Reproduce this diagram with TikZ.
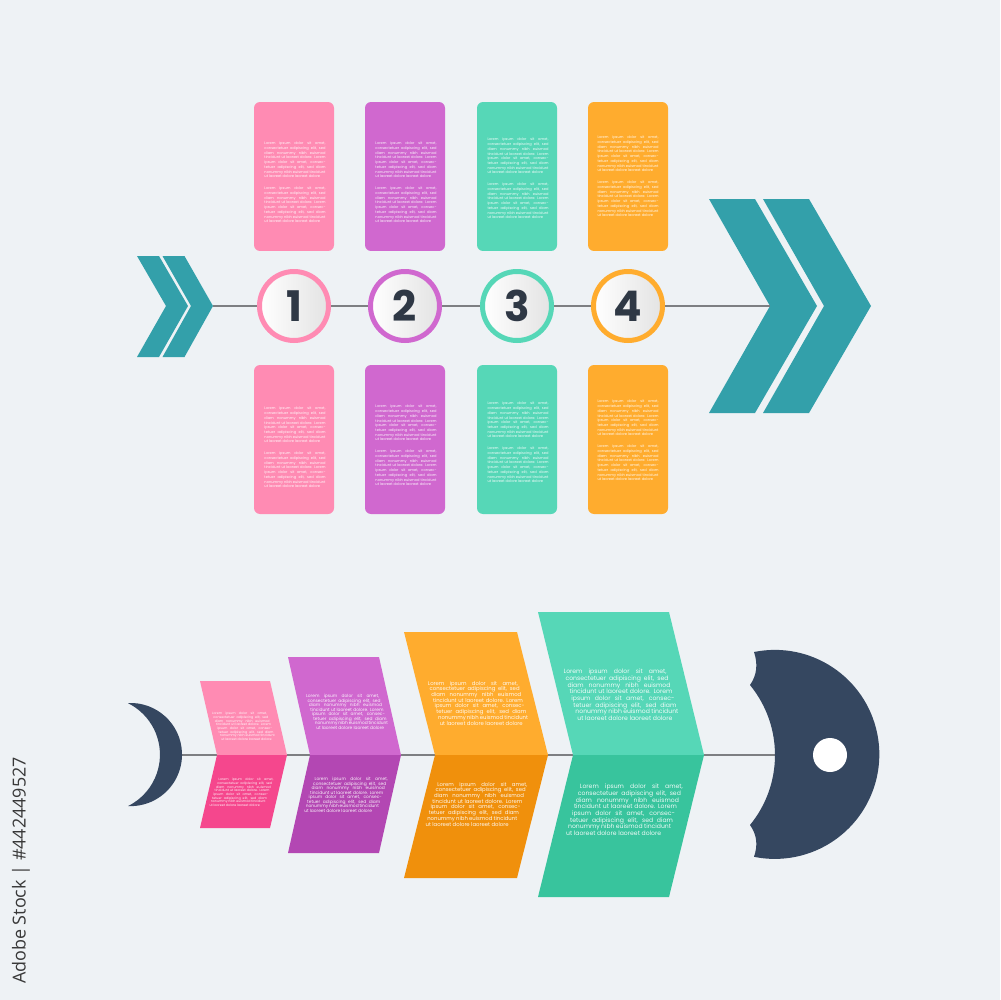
\documentclass[tikz,border=0pt]{standalone}
\usepackage{fontspec}
\setmainfont{Poppins}
\newfontfamily\stockfont{Open Sans}
\usetikzlibrary{positioning}

\definecolor{bgc}{HTML}{EEF2F5}
\definecolor{pinkc}{HTML}{FF8BB3}
\definecolor{pinkd}{HTML}{F5478D}
\definecolor{purpc}{HTML}{D068CF}
\definecolor{purpd}{HTML}{B347B3}
\definecolor{tealc}{HTML}{56D7B7}
\definecolor{teald}{HTML}{38C49D}
\definecolor{orngc}{HTML}{FFAC2E}
\definecolor{orngd}{HTML}{F0900C}
\definecolor{arrowc}{HTML}{33A0AA}
\definecolor{navyc}{HTML}{354760}
\definecolor{digitc}{HTML}{2F3845}
\definecolor{linec}{HTML}{7D7F82}

\newdimen\lnind \newdimen\lnstep \newdimen\lnwid
\newcommand{\slantline}[1]{\hbox{\kern\lnind\hbox to\lnwid{#1}}\advance\lnind by\lnstep}
\newcommand{\loremblock}{%
  \slantline{Lorem ipsum dolor sit amet,}%
  \slantline{consectetuer adipiscing elit, sed}%
  \slantline{diam nonummy nibh euismod}%
  \slantline{tincidunt ut laoreet dolore. Lorem}%
  \slantline{ipsum dolor sit amet, consec-}%
  \slantline{tetuer adipiscing elit, sed diam}%
  \slantline{nonummy nibh euismod tincidunt}%
  \hbox{\kern\lnind ut laoreet dolore laoreet dolore}}
\newcommand{\cardtext}{\vbox{\fontsize{5.1}{6.7}\selectfont\hbadness=10000 \hfuzz=20pt
    \lnwid=86.8pt \lnind=0pt \lnstep=0pt \loremblock
    \vskip 10.4pt \lnind=0pt \loremblock}}
% #1 size, #2 skip, #3 line width, #4 shift per line, #5 direction
\newcommand{\fintext}[5]{\vbox{\fontsize{#1}{#2}\selectfont\hbadness=10000 \hfuzz=20pt
    \lnwid=#3pt
    \ifnum#5>0 \lnind=0pt \lnstep=#4pt \else \lnind=\dimexpr#4pt*7\relax \lnstep=-#4pt \fi
    \loremblock}}

\tikzset{
  card/.style={rectangle, rounded corners=0.3cm, minimum width=4cm, minimum height=7.45cm, inner sep=0pt},
  numring/.style={circle, line width=0.25cm, minimum size=3.45cm, inner sep=0pt,
    left color=white, right color=black!11, text=digitc, font=\fontsize{60}{60}\selectfont\bfseries},
  cardtxt/.style={anchor=north, inner sep=0pt, text=white, text opacity=0.92},
  axisline/.style={draw=linec, line width=0.09cm},
  chevron/.style={fill=arrowc}
}

\begin{document}
\begin{tikzpicture}[x=0.05cm,y=-0.05cm]
        \useasboundingbox (0,0) rectangle (1000,1000);
        \fill[bgc] (0,0) rectangle (1000,1000);

        % Top row chevrons
        \fill[chevron] (137,256) -- (159,256) -- (188,306) -- (159,357) -- (137,357) -- (166,306) -- cycle;
        \fill[chevron] (162.5,256) -- (184.5,256) -- (213,306) -- (184.5,357) -- (162.5,357) -- (191,306) -- cycle;
        \fill[chevron] (709,199) -- (755,199) -- (817,306) -- (755,413) -- (709,413) -- (770,306) -- cycle;
        \fill[chevron] (763,199) -- (809,199) -- (871,306) -- (809,413) -- (763,413) -- (824,306) -- cycle;
        \coordinate (ltip) at (213,306);
        \coordinate (rnotch) at (770,306);

        % Top row cards
        \node[card, fill=pinkc] (p1) at (294,176.5) {};
        \node[card, fill=purpc] (p2) at (405,176.5) {};
        \node[card, fill=tealc] (p3) at (517,176.5) {};
        \node[card, fill=orngc] (p4) at (628,176.5) {};
        \node[card, fill=pinkc] (q1) at (294,439.5) {};
        \node[card, fill=purpc] (q2) at (405,439.5) {};
        \node[card, fill=tealc] (q3) at (517,439.5) {};
        \node[card, fill=orngc] (q4) at (628,439.5) {};

        % Card texts
        \node[cardtxt] (p1txt) at (295,142) {\cardtext};
        \node[cardtxt] (p2txt) at (406,142) {\cardtext};
        \node[cardtxt] (p3txt) at (518,138) {\cardtext};
        \node[cardtxt] (p4txt) at (628,136) {\cardtext};
        \node[cardtxt] (q1txt) at (295,407) {\cardtext};
        \node[cardtxt] (q2txt) at (406,405) {\cardtext};
        \node[cardtxt] (q3txt) at (518,402) {\cardtext};
        \node[cardtxt] (q4txt) at (628,400) {\cardtext};

        % Numbered steps
        \node[numring, draw=pinkc] (n1) at (294,306) {1};
        \node[numring, draw=purpc] (n2) at (405,306) {2};
        \node[numring, draw=tealc] (n3) at (517,306) {3};
        \node[numring, draw=orngc] (n4) at (628,306) {4};

        \draw[axisline] (ltip) -- (n1) (n1) -- (n2) (n2) -- (n3) (n3) -- (n4) (n4) -- (rnotch);

        % ================== Fish ==================
        \coordinate (tail) at (182,755);
        \coordinate (gill) at (775,755);
        \draw[axisline] (tail) -- (gill);

        % Tail
        \fill[navyc] (128,703) arc[start angle=-92.7, end angle=92.7, radius=51.6]
            arc[start angle=63.7, end angle=-63.7, radius=57.4] -- cycle;

        % Fins
        \fill[pinkc] (200,681) -- (270,681) -- (287,755) -- (217,755) -- cycle;
        \fill[pinkd] (217,755) -- (287,755) -- (270,828) -- (200,828) -- cycle;
        \fill[purpc] (288,657) -- (379,657) -- (401,755) -- (310,755) -- cycle;
        \fill[purpd] (310,755) -- (401,755) -- (379,853) -- (288,853) -- cycle;
        \fill[orngc] (404,632) -- (517,632) -- (548,755) -- (435,755) -- cycle;
        \fill[orngd] (435,755) -- (548,755) -- (517,878) -- (404,878) -- cycle;
        \fill[tealc] (538,612) -- (669,612) -- (704,755) -- (573,755) -- cycle;
        \fill[teald] (573,755) -- (704,755) -- (669,897) -- (538,897) -- cycle;

        % Fin texts
        \node[cardtxt] (f1u) at (243.5,712) {\fintext{4.6}{5.3}{78}{1.85}{1}};
        \node[cardtxt] (f1d) at (241.5,778) {\fintext{4.6}{5.3}{78}{1.85}{-1}};
        \node[cardtxt] (f2u) at (347,694) {\fintext{6.2}{6.5}{104}{2.1}{1}};
        \node[cardtxt] (f2d) at (346,777) {\fintext{6.2}{6.5}{104}{2.1}{-1}};
        \node[cardtxt] (f3u) at (478,681) {\fintext{7.6}{8.1}{128}{2.4}{1}};
        \node[cardtxt] (f3d) at (476.5,782) {\fintext{7.6}{8.1}{128}{2.4}{-1}};
        \node[cardtxt] (f4u) at (621,669) {\fintext{8.7}{9.5}{146.5}{2.8}{1}};
        \node[cardtxt] (f4d) at (624.5,784) {\fintext{8.7}{9.5}{146.5}{2.8}{-1}};

        % Head
        \fill[navyc] (754,652) arc[start angle=-101.5, end angle=101.5, radius=104.5]
            .. controls (758,845) and (757,835) .. (750,825)
            arc[start angle=39.3, end angle=-39.3, radius=110.5]
            .. controls (757,675) and (758,664) .. (754,652) -- cycle;
        \node[circle, fill=white, minimum size=1.7cm, inner sep=0pt] (eye) at (830,755) {};

        % Side label
        \node[rotate=90, anchor=east, inner sep=0pt, text=black!78,
              font=\stockfont\fontsize{25.5}{25.5}\selectfont] (stockid) at (21,757) {Adobe Stock | \#442449527};
\end{tikzpicture}
\end{document}
